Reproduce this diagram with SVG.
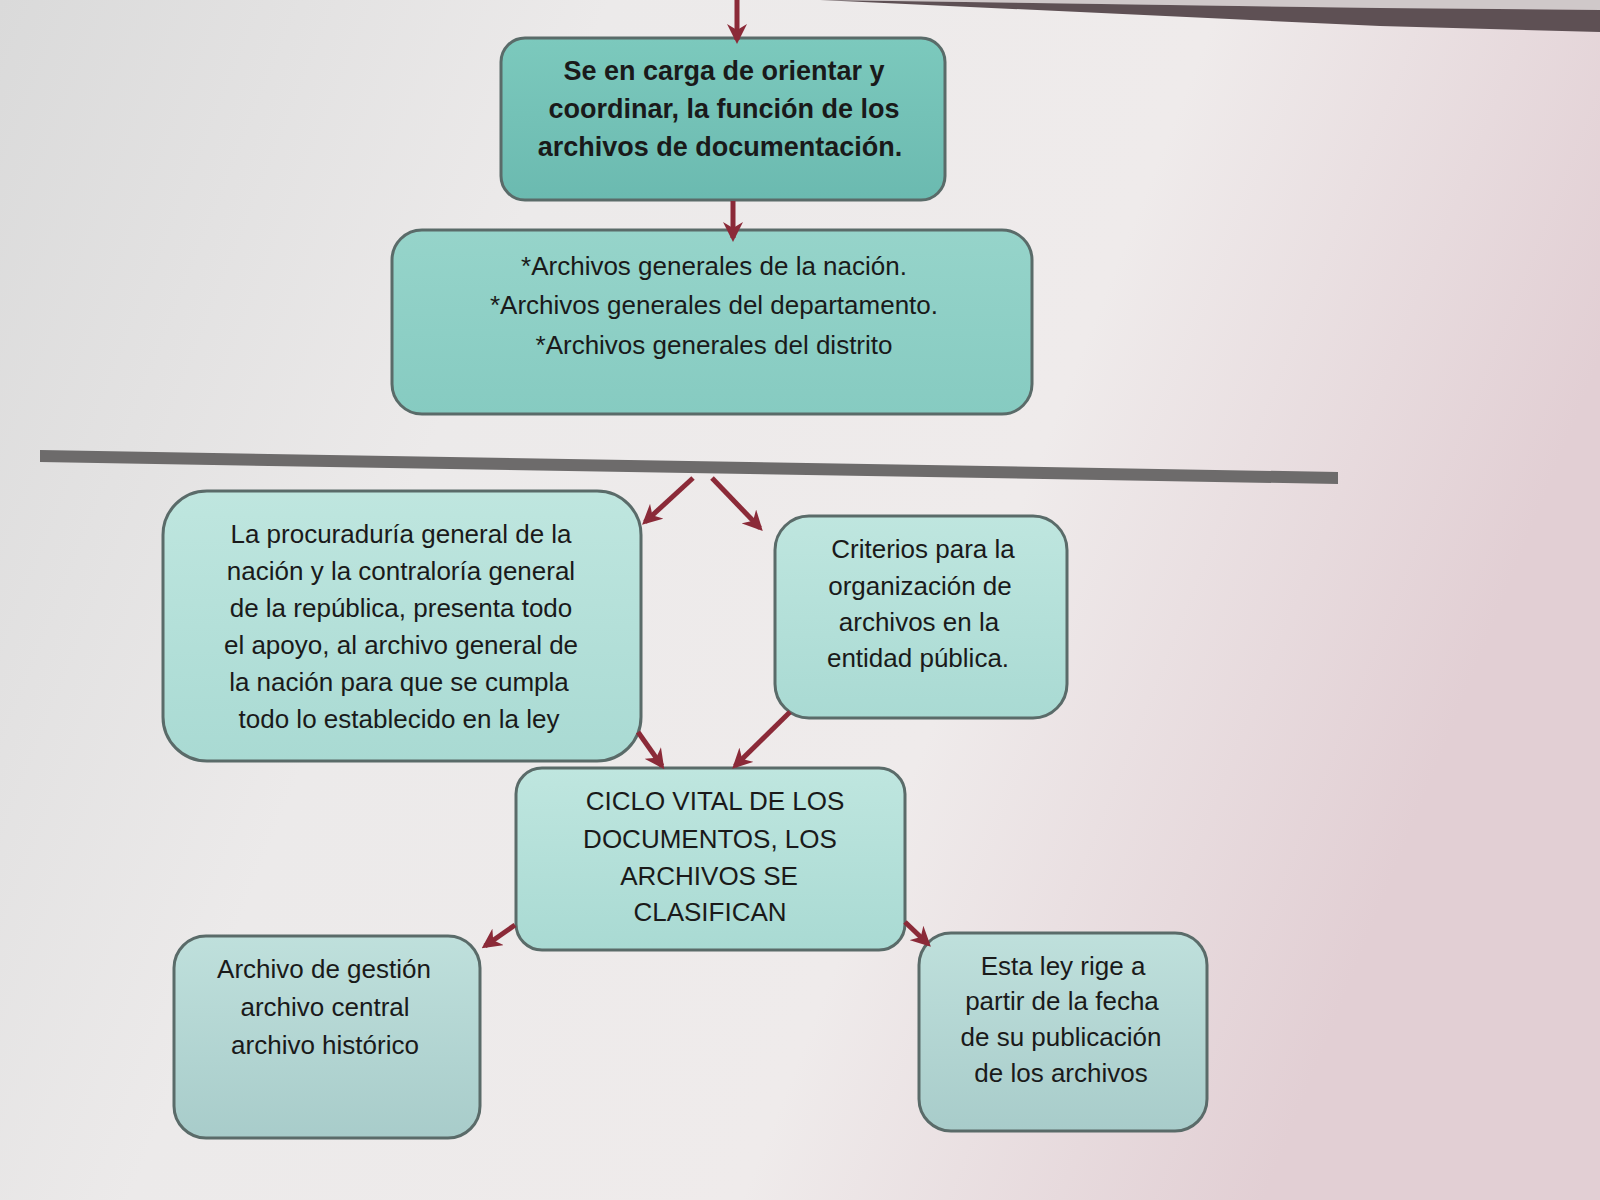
<svg xmlns="http://www.w3.org/2000/svg" width="1600" height="1200" viewBox="0 0 1600 1200">
<defs>
<linearGradient id="bg" x1="0" y1="0" x2="1" y2="0.3">
<stop offset="0" stop-color="#dadada"/>
<stop offset="0.35" stop-color="#eceaea"/>
<stop offset="0.7" stop-color="#efebeb"/>
<stop offset="1" stop-color="#e2cfd4"/>
</linearGradient>
<linearGradient id="teal" x1="0" y1="0" x2="0" y2="1">
<stop offset="0" stop-color="#7cc9bd"/>
<stop offset="1" stop-color="#6bbab0"/>
</linearGradient>
<linearGradient id="teal2" x1="0" y1="0" x2="0" y2="1">
<stop offset="0" stop-color="#96d4ca"/>
<stop offset="1" stop-color="#86cbc1"/>
</linearGradient>
<linearGradient id="light" x1="0" y1="0" x2="0" y2="1">
<stop offset="0" stop-color="#bfe6df"/>
<stop offset="1" stop-color="#a9dad3"/>
</linearGradient>
<linearGradient id="pale" x1="0" y1="0" x2="0" y2="1">
<stop offset="0" stop-color="#bfe0dc"/>
<stop offset="1" stop-color="#a8ccca"/>
</linearGradient>
<marker id="ah" viewBox="0 0 10 10" refX="8" refY="5" markerWidth="4" markerHeight="4" orient="auto">
<path d="M0,0 L10,5 L0,10 L3,5 Z" fill="#8b2a38"/>
</marker>
<style>
.box{stroke:#5a6b69;stroke-width:3}
.t{font-family:"Liberation Sans",Arial,sans-serif;fill:#1a1a1a;text-anchor:middle}
.b{font-size:27px;font-weight:bold}
.n{font-size:26px}
.c{stroke:#8b2a38;stroke-width:5;fill:none;marker-end:url(#ah)}
</style>
</defs>
<rect width="1600" height="1200" fill="url(#bg)"/>
<polygon points="820,0 1600,0 1600,10 1380,8" fill="#cfc8c9"/>
<polygon points="820,0 1380,8 1600,10 1600,32 1380,26" fill="#5e5054"/>
<g id="divider">
<polygon points="40,450 1338,472 1338,484 40,462" fill="#6d6b6b"/>
</g>
<g id="n1">
<rect class="box" x="501" y="38" width="444" height="162" rx="24" fill="url(#teal)"/>
<text class="t b" x="724" y="80">Se en carga de orientar y</text>
<text class="t b" x="724" y="118">coordinar, la función de los</text>
<text class="t b" x="720" y="156">archivos de documentación.</text>
</g>
<g id="n2">
<rect class="box" x="392" y="230" width="640" height="184" rx="30" fill="url(#teal2)"/>
<text class="t n" x="714" y="275">*Archivos generales de la nación.</text>
<text class="t n" x="714" y="314">*Archivos generales del departamento.</text>
<text class="t n" x="714" y="354">*Archivos generales del distrito</text>
</g>
<g id="n3">
<rect class="box" x="163" y="491" width="478" height="270" rx="44" fill="url(#light)"/>
<text class="t n" x="401" y="543">La procuraduría general  de la</text>
<text class="t n" x="401" y="580">nación y la contraloría general</text>
<text class="t n" x="401" y="617">de la república,  presenta todo</text>
<text class="t n" x="401" y="654">el apoyo, al archivo general de</text>
<text class="t n" x="399" y="691">la nación para que se cumpla</text>
<text class="t n" x="399" y="728">todo lo establecido en la ley</text>
</g>
<g id="n4">
<rect class="box" x="775" y="516" width="292" height="202" rx="34" fill="url(#light)"/>
<text class="t n" x="923" y="558">Criterios para  la</text>
<text class="t n" x="920" y="595">organización de</text>
<text class="t n" x="919" y="631">archivos en la</text>
<text class="t n" x="918" y="667">entidad  pública.</text>
</g>
<g id="n5">
<rect class="box" x="516" y="768" width="389" height="182" rx="26" fill="url(#light)"/>
<text class="t n" x="715" y="810">CICLO VITAL DE LOS</text>
<text class="t n" x="710" y="848">DOCUMENTOS,  LOS</text>
<text class="t n" x="709" y="885">ARCHIVOS SE</text>
<text class="t n" x="710" y="921">CLASIFICAN</text>
</g>
<g id="n6">
<rect class="box" x="174" y="936" width="306" height="202" rx="32" fill="url(#pale)"/>
<text class="t n" x="324" y="978">Archivo de gestión</text>
<text class="t n" x="325" y="1016">archivo central</text>
<text class="t n" x="325" y="1054">archivo histórico</text>
</g>
<g id="n7">
<rect class="box" x="919" y="933" width="288" height="198" rx="32" fill="url(#pale)"/>
<text class="t n" x="1063" y="975">Esta ley rige a</text>
<text class="t n" x="1062" y="1010">partir de la fecha</text>
<text class="t n" x="1061" y="1046">de su publicación</text>
<text class="t n" x="1061" y="1082">de los archivos</text>
</g>
<g id="connectors">
<line class="c" x1="737" y1="0" x2="737" y2="40"/>
<line class="c" x1="733" y1="201" x2="733" y2="238"/>
<line class="c" x1="693" y1="478" x2="645" y2="522"/>
<line class="c" x1="712" y1="478" x2="760" y2="528"/>
<line class="c" x1="638" y1="732" x2="662" y2="766"/>
<line class="c" x1="790" y1="712" x2="735" y2="766"/>
<line class="c" x1="515" y1="925" x2="485" y2="946"/>
<line class="c" x1="905" y1="922" x2="928" y2="944"/>
</g>
</svg>
